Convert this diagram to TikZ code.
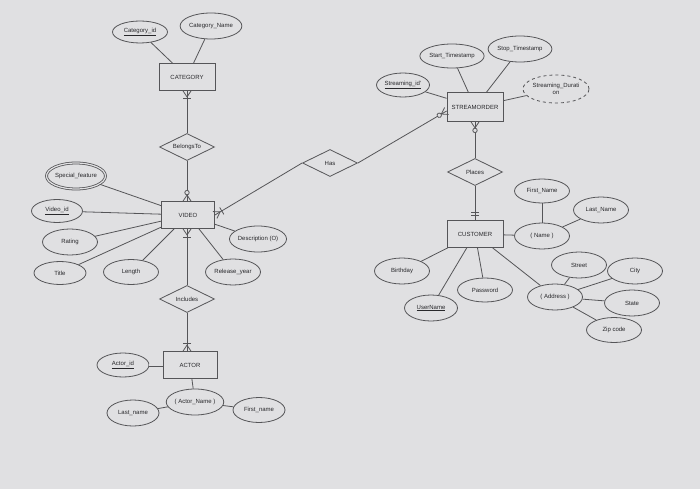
\documentclass[tikz,border=0pt]{standalone}
\usepackage{fontspec}
\setmainfont{Liberation Sans}
\usetikzlibrary{shapes.geometric}
\definecolor{bgc}{RGB}{224,224,226}
\definecolor{ln}{RGB}{85,85,88}
\definecolor{tx}{RGB}{40,40,43}
\tikzset{
  erline/.style={draw=ln, line width=0.8pt},
  attr/.style={ellipse, erline, minimum width=55pt, minimum height=26pt, inner sep=0pt, text=tx, font=\fontsize{6}{6.5}\selectfont, align=center},
  ent/.style={rectangle, erline, minimum width=56pt, minimum height=27pt, inner sep=0pt, text=tx, font=\fontsize{6}{6.5}\selectfont},
  rel/.style={diamond, erline, aspect=2, minimum width=55pt, minimum height=27pt, inner sep=0pt, text=tx, font=\fontsize{6}{6.5}\selectfont},
  manyone/.pic={\draw[erline] (0pt,-4pt) -- (6pt,0pt) -- (0pt,4pt); \draw[erline] (8pt,-4pt) -- (8pt,4pt);},
  manyzero/.pic={\draw[erline] (0pt,-4pt) -- (6pt,0pt) -- (0pt,4pt); \draw[erline,fill=bgc] (8.5pt,0pt) circle (2.2pt);},
  oneone/.pic={\draw[erline] (5pt,-4pt) -- (5pt,4pt) (8pt,-4pt) -- (8pt,4pt);}
}
\begin{document}
\begin{tikzpicture}[x=1pt,y=-1pt]
\fill[bgc] (0,0) rectangle (700,489);
\useasboundingbox (0,0) rectangle (700,489);
% CATEGORY
\node[ent] (category) at (187,77) {CATEGORY};
\node[attr,minimum height=22pt] (catid) at (140,32) {\underline{Category\_id}};
\node[attr] (catname) at (211,26) {Category\_Name};
\node[rel] (belongs) at (187,147) {BelongsTo};
% VIDEO
\node[ent,minimum width=53pt] (video) at (188,215) {VIDEO};
\node[attr,double=bgc,double distance=1.2pt] (special) at (76,176) {Special\_feature};
\node[attr,minimum width=51pt,minimum height=23pt] (videoid) at (57,211) {\underline{Video\_id}};
\node[attr] (rating) at (70,242) {Rating};
\node[attr,minimum width=52pt,minimum height=23pt] (title) at (60,273) {Title};
\node[attr,minimum height=25pt] (length) at (131,272) {Length};
\node[attr] (release) at (233,272) {Release\_year};
\node[attr] (desc) at (258,239) {Description (O)};
\node[rel] (includes) at (187,299) {Includes};
% ACTOR
\node[ent,minimum width=54pt] (actor) at (190,365) {ACTOR};
\node[attr,minimum width=52pt,minimum height=24pt] (actorid) at (123,365) {\underline{Actor\_id}};
\node[attr] (actorname) at (195,402) {( Actor\_Name )};
\node[attr,minimum width=52pt] (lastname) at (133,413) {Last\_name};
\node[attr,minimum width=52pt,minimum height=25pt] (firstname) at (259,410) {First\_name};
% HAS
\node[rel] (has) at (330,163) {Has};
% STREAMORDER
\node[ent,minimum height=29pt] (stream) at (475,107) {STREAMORDER};
\node[attr,minimum width=57pt,minimum height=24pt] (start) at (452,56) {Start\_Timestamp};
\node[attr] (stop) at (520,49) {Stop\_Timestamp};
\node[attr,minimum width=53pt,minimum height=24pt] (streamid) at (403,85) {\underline{Streaming\_id'}};
\node[attr,dashed,minimum width=57pt,minimum height=28pt] (duration) at (556,89) {Streaming\_Durati\\on};
\node[rel] (places) at (475,172) {Places};
% CUSTOMER
\node[ent] (customer) at (475,234) {CUSTOMER};
\node[attr,minimum height=24pt] (fname) at (542,191) {First\_Name};
\node[attr] (lname) at (601,210) {Last\_Name};
\node[attr] (name) at (542,236) {( Name )};
\node[attr] (birthday) at (402,271) {Birthday};
\node[attr,minimum width=53pt] (username) at (431,308) {\underline{UserName}};
\node[attr,minimum height=24pt] (password) at (485,290) {Password};
\node[attr] (address) at (555,297) {( Address )};
\node[attr] (street) at (579,265) {Street};
\node[attr] (city) at (635,271) {City};
\node[attr] (state) at (632,303) {State};
\node[attr,minimum height=25pt] (zip) at (614,330) {Zip code};
% attribute links
\draw[erline] (catid) -- (category);
\draw[erline] (catname) -- (category);
\draw[erline] (special) -- (video);
\draw[erline] (videoid) -- (video);
\draw[erline] (rating) -- (video);
\draw[erline] (title) -- (video);
\draw[erline] (length) -- (video);
\draw[erline] (release) -- (video);
\draw[erline] (desc) -- (video);
\draw[erline,double=bgc,double distance=1.4pt] (actorid) -- (actor);
\draw[erline] (actor) -- (actorname);
\draw[erline] (lastname) -- (actorname);
\draw[erline] (firstname) -- (actorname);
\draw[erline] (streamid) -- (stream);
\draw[erline] (start) -- (stream);
\draw[erline] (stop) -- (stream);
\draw[erline] (duration) -- (stream);
\draw[erline] (customer) -- (name);
\draw[erline] (fname) -- (name);
\draw[erline] (lname) -- (name);
\draw[erline] (birthday) -- (customer);
\draw[erline] (username) -- (customer);
\draw[erline] (password) -- (customer);
\draw[erline] (customer) -- (address);
\draw[erline] (street) -- (address);
\draw[erline] (city) -- (address);
\draw[erline] (state) -- (address);
\draw[erline] (zip) -- (address);
% relationships
\coordinate (vtop) at (belongs.south |- video.north);
\coordinate (vbot) at (includes.north |- video.south);
\coordinate (atop) at (includes.south |- actor.north);
\draw[erline] (category.south) -- (belongs.north);
\draw[erline] (belongs.south) -- (vtop);
\draw[erline] (vbot) -- (includes.north);
\draw[erline] (includes.south) -- (atop);
\draw[erline] (video.east) -- (has.west);
\draw[erline] (has.east) -- ([yshift=-4pt]stream.west);
\draw[erline] (stream.south) -- (places.north);
\draw[erline] (places.south) -- (customer.north);
% cardinality marks
\pic[rotate=-90] at (category.south) {manyone};
\pic[rotate=90] at (vtop) {manyzero};
\pic[rotate=-90] at (vbot) {manyone};
\pic[rotate=90] at (atop) {manyone};
\pic[rotate=31] at (video.east) {manyone};
\pic[rotate=210] at ([yshift=-4pt]stream.west) {manyzero};
\pic[rotate=-90] at (stream.south) {manyzero};
\pic[rotate=90] at (customer.north) {oneone};
\end{tikzpicture}
\end{document}
